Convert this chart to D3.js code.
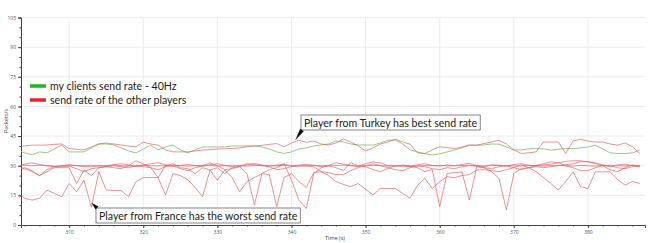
<!DOCTYPE html>
<html>
<head>
<meta charset="utf-8">
<script src="https://cdn.jsdelivr.net/npm/d3@7"></script>
<style>
  body { margin: 0; background: #fff; }
  .tick text { font-family: "Open Sans", sans-serif; font-size: 5px; fill: #555; }
  .note { font-family: Lato, sans-serif; font-size: 10.6px; fill: #222; }
</style>
</head>
<body>
<svg width="650" height="243"></svg>
<script>
const svg = d3.select("svg");

// time in seconds, one sample per second
const times = d3.range(303, 388);

const myClient = [
  38, 36.5, 35.5, 37, 36.5, 38.5, 40.4, 37, 37, 37,
  39, 41, 41, 40.5, 39, 37.5, 36.5, 38.5, 40.4, 38,
  39.5, 40.5, 38, 36.5, 38, 39.5, 39.5, 39.5, 39.5, 40,
  40, 40, 40, 39.5, 38.5, 37, 36.2, 37, 38.5, 39,
  40, 40.5, 41, 42.5, 42, 41, 40.5, 40.5, 40.4, 41.5,
  42.9, 43, 41, 38, 37, 36, 35.5, 36, 37, 38,
  39, 40.4, 40.4, 40.5, 41, 40.9, 39.5, 38, 38, 38.5,
  38.7, 38.5, 37.9, 38.3, 38.7, 38.7, 39, 39.5, 40.4, 38.5,
  36.5, 36.2, 36.2, 36.5, 38
];

const turkey = [
  39.6, 40, 40.4, 40.4, 40.5, 40.8, 41, 38.7, 38.3, 38,
  39.5, 41, 41.5, 41, 40.5, 40, 39.6, 41.9, 41, 40.4,
  38, 37, 37, 37, 37.5, 37.9, 38.2, 38.4, 38.6, 38.7,
  39, 39.6, 40, 40.3, 40.8, 41.2, 39.6, 41.5, 42.9, 41.9,
  42.5, 41, 40.5, 41.5, 43.5, 42, 40, 37.5, 39, 41,
  42, 43.4, 42, 40.9, 36.5, 36.2, 38, 39.6, 39.2, 38.7,
  39.5, 40.4, 40.4, 41.2, 42, 42.9, 41, 38, 36.2, 36.5,
  37, 42, 42, 42, 36.2, 42.5, 43.4, 42.5, 42, 42,
  41, 40.4, 41.5, 39.6, 36.2
];

const france = [
  17, 13.5, 12.6, 13.5, 17.7, 16, 14.3, 21, 16.8, 22.7,
  9, 27, 17.7, 17.5, 17.4, 14.3, 21.9, 24, 24, 24,
  15.2, 26, 25, 23, 19, 14.3, 27.8, 22.7, 27.8, 24,
  16.8, 22, 24, 26, 25.5, 9.3, 24, 26, 22, 19,
  26.5, 27, 25, 22, 20.5, 19.4, 21, 18, 15.2, 18.5,
  18.5, 18.5, 16, 13.5, 20, 23.6, 18.5, 21.9, 24.4, 24,
  25, 25.5, 27.8, 28, 27.5, 27, 28, 29, 30.5, 29,
  27, 24, 21, 17.7, 22, 26.9, 19.4, 18.5, 26.9, 26.9,
  26.9, 23, 20.2, 22, 21
];

const playerA = [
  29, 28.5, 27, 25, 28, 29.5, 29, 29, 21, 27.8,
  25, 29, 29.5, 30, 29.5, 29, 30, 29.5, 29, 24,
  30, 31, 29, 28.5, 26, 29, 27.8, 29, 26, 29,
  29.5, 26, 10.1, 26, 28, 29, 31.1, 22.7, 12.6, 8.4,
  26, 29, 30, 29, 27.5, 31.5, 30, 29.5, 28, 27,
  28.6, 30, 29.5, 29.7, 29, 27, 28, 9.3, 26, 26.5,
  26.8, 12.6, 29.5, 29, 27, 23.6, 7.6, 26, 28.6, 29,
  29.5, 29, 29.5, 30, 30.5, 31, 32, 32, 31.5, 30,
  28, 27, 29, 30.5, 29.5
];

const playerB = [
  30.5, 30.3, 30, 30.2, 30, 29.8, 30, 30.2, 30.1, 30,
  30.2, 29.9, 30, 30.3, 30.1, 29.8, 30, 30.2, 30, 29.9,
  30.1, 30.3, 30, 29.8, 30, 30.2, 30.1, 29.9, 30, 30.2,
  30, 29.8, 30.1, 30.3, 30, 29.9, 30.2, 30, 29.8, 30.1,
  30.2, 30, 29.9, 30.1, 30.3, 30, 29.8, 30, 30.2, 30.1,
  29.9, 30, 30.2, 30, 29.8, 30.1, 30, 30.2, 29.9, 30,
  30.1, 30.3, 30, 29.8, 30, 30.2, 30.1, 29.9, 30, 30.2,
  30, 29.8, 30.1, 30.2, 30, 29.9, 30.2, 30, 29.8, 30.1,
  30.2, 30, 29.9, 30.1, 30
];

const playerC = [
  29.5, 30.8, 31.5, 30.6, 30, 29.5, 30, 30.5, 30, 29.5,
  29.5, 30, 29.8, 30.5, 31, 30.5, 29.5, 30.4, 31, 31.5,
  30.5, 29.6, 30.2, 30.6, 30.1, 29.7, 30.5, 31, 30.2, 29.5,
  30, 30.5, 31.2, 30.2, 29.8, 30.4, 30.7, 29.9, 30.3, 30.6,
  30.2, 29.5, 30.1, 31.5, 30.8, 30.2, 29.7, 31, 32, 31.5,
  30, 29.8, 30.3, 29.6, 30.5, 31, 30.2, 29.8, 30.4, 30,
  30.6, 31.2, 30, 29.7, 30.5, 30.2, 29.8, 30.6, 31, 30.2,
  30, 30.4, 30.8, 31.5, 32.2, 32.5, 32.5, 32, 31, 30.5,
  29.5, 30.4, 30.8, 30, 29.8
];

const playerD = [
  28.5, 29, 27.5, 25, 27, 29, 29.5, 29.8, 28.5, 27,
  28.5, 29, 29.5, 29, 28.5, 30, 32.5, 31, 29, 28,
  29.5, 30, 28.5, 27.5, 29, 30, 31.5, 30, 28, 28.5,
  29.5, 31, 30.5, 30, 29.5, 28, 28.5, 29.5, 30, 29.8,
  29.5, 27, 26.5, 25.5, 25.5, 27.5, 29, 30, 31, 30,
  29, 28, 27.5, 29, 30, 29.5, 28.5, 28, 29, 28.5,
  29.5, 30, 29.8, 29, 28.5, 29.5, 30, 29, 28, 29,
  30, 31, 32, 31.5, 30, 29, 27.5, 27.5, 29, 30,
  30, 29, 28.5, 29.5, 30
];

const otherPlayers = [france, playerA, playerB, playerC, playerD, turkey];

const yTicks = [0, 15, 30, 45, 60, 75, 90, 105];
const xTicks = [310, 320, 330, 340, 350, 360, 370, 380];

const legendItems = [
  { label: "my clients send rate - 40Hz", color: "#1fb51f" },
  { label: "send rate of the other players", color: "#e8232b" }
];

const margin = { left: 21, right: 5, top: 17.5, bottom: 18 };
const x = d3.scaleLinear().domain([303.5, 387.7]).range([margin.left, 650 - margin.right]);
const y = d3.scaleLinear().domain([0, 105]).range([225, margin.top]);

// grid
svg.append("g")
  .selectAll("line.vg")
  .data(xTicks)
  .join("line")
  .attr("x1", d => x(d)).attr("x2", d => x(d))
  .attr("y1", y(105)).attr("y2", y(0))
  .attr("stroke", "#ececec");

svg.append("g")
  .selectAll("line.hg")
  .data(yTicks.filter(d => d > 0))
  .join("line")
  .attr("x1", x.range()[0]).attr("x2", x.range()[1])
  .attr("y1", d => y(d)).attr("y2", d => y(d))
  .attr("stroke", "#ececec");

// axes
svg.append("g")
  .attr("transform", `translate(0,${y(0)})`)
  .call(d3.axisBottom(x).tickValues(xTicks).tickSize(3).tickPadding(2).tickFormat(d3.format("d")));
svg.append("g")
  .attr("transform", `translate(0,${y(0)})`)
  .call(d3.axisBottom(x).tickValues(d3.range(304, 388, 2)).tickSize(1.5).tickFormat(""))
  .call(g => g.select(".domain").remove());

svg.append("g")
  .attr("transform", `translate(${x(303.5)},0)`)
  .call(d3.axisLeft(y).tickValues(yTicks).tickSize(3).tickPadding(2));
svg.append("g")
  .attr("transform", `translate(${x(303.5)},0)`)
  .call(d3.axisLeft(y).tickValues(d3.range(0, 106, 5)).tickSize(1.5).tickFormat(""))
  .call(g => g.select(".domain").remove());

svg.selectAll(".domain").attr("stroke", "#444");
svg.selectAll(".tick line").attr("stroke", "#444");

svg.append("text")
  .attr("x", 335).attr("y", 240)
  .attr("text-anchor", "middle")
  .style("font-family", "Open Sans, sans-serif")
  .style("font-size", "5.5px")
  .attr("fill", "#444")
  .text("Time (s)");

svg.append("text")
  .attr("transform", "translate(8,121) rotate(-90)")
  .attr("text-anchor", "middle")
  .style("font-family", "Open Sans, sans-serif")
  .style("font-size", "5.5px")
  .attr("fill", "#444")
  .text("Packets/s");

// lines
svg.append("defs").append("clipPath").attr("id", "plot")
  .append("rect")
  .attr("x", x.range()[0]).attr("y", y(105))
  .attr("width", x.range()[1] - x.range()[0]).attr("height", y(0) - y(105));

const line = d3.line()
  .x((d, i) => x(times[i]))
  .y(d => y(d));

const plot = svg.append("g").attr("clip-path", "url(#plot)");

plot.append("path")
  .datum(myClient)
  .attr("d", line)
  .attr("fill", "none")
  .attr("stroke", "#8fc27a")
  .attr("stroke-width", 0.9);

plot.selectAll("path.other")
  .data(otherPlayers)
  .join("path")
  .attr("class", "other")
  .attr("d", line)
  .attr("fill", "none")
  .attr("stroke", "#ec5a5f")
  .attr("stroke-opacity", 0.75)
  .attr("stroke-width", 0.9);

// legend
const legend = svg.append("g").attr("transform", "translate(30,86)");
legend.selectAll("line")
  .data(legendItems)
  .join("line")
  .attr("x1", 0).attr("x2", 16)
  .attr("y1", (d, i) => i * 14).attr("y2", (d, i) => i * 14)
  .attr("stroke", d => d.color)
  .attr("stroke-width", 3.5);
legend.selectAll("text")
  .data(legendItems)
  .join("text")
  .attr("class", "note")
  .attr("x", 20)
  .attr("y", (d, i) => i * 14 + 4)
  .text(d => d.label);

// annotations
function annotate(label, bx, by, tipT, tipV, corner) {
  const g = svg.append("g");
  const t = g.append("text").attr("class", "note").attr("x", bx + 3).attr("y", by + 11.5).text(label);
  const w = t.node().getComputedTextLength() + 6;
  g.insert("rect", "text")
    .attr("x", bx).attr("y", by)
    .attr("width", w).attr("height", 15)
    .attr("fill", "#fff")
    .attr("stroke", "#666")
    .attr("stroke-width", 0.8);
  const tx = x(tipT), ty = y(tipV);
  const cx = bx + 1, cy = corner === "top" ? by : by + 15;
  const dx = cx - tx, dy = cy - ty, len = Math.hypot(dx, dy);
  const nx = -dy / len * 2.2, ny = dx / len * 2.2;
  g.append("path")
    .attr("d", `M${tx},${ty}L${cx + nx},${cy + ny}L${cx - nx},${cy - ny}Z`)
    .attr("fill", "#111");
}

annotate("Player from Turkey has best send rate", 301, 115, 340.5, 42.9, "bottom");
annotate("Player from France has the worst send rate", 96, 208, 313, 11.2, "top");
</script>
</body>
</html>
